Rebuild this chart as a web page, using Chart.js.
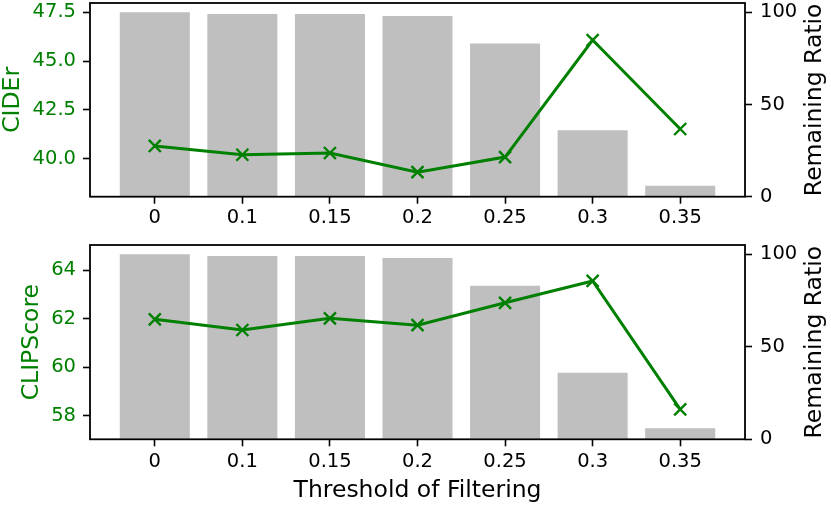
<!DOCTYPE html>
<html>
<head>
<meta charset="utf-8">
<script src="https://cdn.jsdelivr.net/npm/chart.js@4/dist/chart.umd.min.js"></script>
<style>
  html, body { margin: 0; padding: 0; background: #fff; }
  #wrap { position: relative; width: 831px; height: 506px; }
  canvas { position: absolute; left: 0; }
</style>
</head>
<body>
<div id="wrap">
  <canvas id="c1" width="831" height="240" style="top:0;width:831px;height:240px"></canvas>
  <canvas id="c2" width="831" height="266" style="top:240px;width:831px;height:266px"></canvas>
</div>
<script>
const categories = ['0', '0.1', '0.15', '0.2', '0.25', '0.3', '0.35'];
const remainingRatio = [100, 99, 99, 98, 83, 36, 6];
const ciderValues = [40.65, 40.2, 40.29, 39.31, 40.08, 46.08, 41.52];
const clipValues = [61.97, 61.53, 62.01, 61.73, 62.65, 63.55, 58.26];
const ciderTicks = [40, 42.5, 45, 47.5];
const clipTicks = [58, 60, 62, 64];
const ratioTicks = [0, 50, 100];

const GREEN = '#008000';
const FONT = 'DejaVu Sans';

function pts(arr) { return arr.map((v, i) => ({ x: i, y: v })); }

function boxAndTitles(leftTitle, rightTitle, leftX, bottomTitle) {
  return {
    id: 'boxTitles',
    afterDraw(chart) {
      const ctx = chart.ctx, a = chart.chartArea;
      ctx.save();
      ctx.strokeStyle = '#000';
      ctx.lineWidth = 1.8;
      ctx.strokeRect(a.left, a.top, a.right - a.left, a.bottom - a.top);
      const cy = (a.top + a.bottom) / 2;
      ctx.font = '23.5px "' + FONT + '"';
      ctx.textAlign = 'center';
      ctx.textBaseline = 'middle';
      ctx.fillStyle = GREEN;
      ctx.translate(leftX, cy);
      ctx.rotate(-Math.PI / 2);
      ctx.fillText(leftTitle, 0, 0);
      ctx.restore();
      ctx.save();
      ctx.font = '23.5px "' + FONT + '"';
      ctx.textAlign = 'center';
      ctx.textBaseline = 'middle';
      ctx.fillStyle = '#000';
      ctx.translate(815, cy);
      ctx.rotate(-Math.PI / 2);
      ctx.fillText(rightTitle, 0, 0);
      ctx.restore();
      if (bottomTitle) {
        ctx.save();
        ctx.font = '23.5px "' + FONT + '"';
        ctx.textAlign = 'center';
        ctx.textBaseline = 'alphabetic';
        ctx.fillStyle = '#000';
        ctx.fillText(bottomTitle, (a.left + a.right) / 2, 256.7);
        ctx.restore();
      }
    }
  };
}

function makeChart(id, lineVals, leftMin, leftMax, leftTicks, leftFmt, padTop, xHeight, xPad, leftTitle, leftX, bottomTitle) {
  const gridOpts = { drawOnChartArea: false, drawTicks: true, tickLength: 7, tickColor: '#000', tickWidth: 1.6, offset: false };
  return new Chart(document.getElementById(id), {
    type: 'bar',
    data: {
      datasets: [
        {
          type: 'line',
          data: pts(lineVals),
          yAxisID: 'y',
          xAxisID: 'x',
          borderColor: GREEN,
          backgroundColor: GREEN,
          borderWidth: 3,
          pointStyle: 'crossRot',
          pointRadius: 8.5,
          pointBorderWidth: 2.4,
          pointBorderColor: GREEN,
          tension: 0,
          order: 0
        },
        {
          type: 'bar',
          data: pts(remainingRatio),
          yAxisID: 'y1',
          xAxisID: 'x',
          backgroundColor: '#bfbfbf',
          borderWidth: 0,
          barPercentage: 0.8,
          categoryPercentage: 1.0,
          order: 1
        }
      ]
    },
    options: {
      responsive: false,
      animation: false,
      devicePixelRatio: 1,
      layout: { autoPadding: false, padding: { top: padTop, left: 0, right: 0, bottom: 0 } },
      plugins: { legend: { display: false }, tooltip: { enabled: false } },
      scales: {
        x: {
          type: 'linear',
          position: 'bottom',
          offset: false,
          min: -0.74,
          max: 6.74,
          afterBuildTicks: s => { s.ticks = categories.map((c, i) => ({ value: i })); },
          afterFit: s => { s.height = xHeight; s.paddingLeft = 0; s.paddingRight = 0; },
          ticks: {
            callback: v => categories[v],
            color: '#000',
            font: { family: FONT, size: 19.5 },
            padding: xPad,
            maxRotation: 0,
            autoSkip: false
          },
          grid: gridOpts,
          border: { display: false }
        },
        y: {
          type: 'linear',
          position: 'left',
          min: leftMin,
          max: leftMax,
          afterBuildTicks: s => { s.ticks = leftTicks.map(v => ({ value: v })); },
          afterFit: s => { s.width = 90; s.paddingTop = 0; s.paddingBottom = 0; },
          ticks: {
            callback: leftFmt,
            color: GREEN,
            font: { family: FONT, size: 19.5 },
            padding: 7
          },
          grid: gridOpts,
          border: { display: false }
        },
        y1: {
          type: 'linear',
          position: 'right',
          min: 0,
          max: 105,
          afterBuildTicks: s => { s.ticks = ratioTicks.map(v => ({ value: v })); },
          afterFit: s => { s.width = 86; s.paddingTop = 0; s.paddingBottom = 0; },
          ticks: {
            color: '#000',
            font: { family: FONT, size: 19.5 },
            padding: 8
          },
          grid: gridOpts,
          border: { display: false }
        }
      }
    },
    plugins: [boxAndTitles(leftTitle, 'Remaining Ratio', leftX, bottomTitle)]
  });
}

makeChart('c1', ciderValues, 38.05, 47.98, ciderTicks, v => Number(v).toFixed(1), 3, 43.3, 3, 'CIDEr', 13, null);
makeChart('c2', clipValues, 57.03, 65.03, clipTicks, v => String(v), 5, 66.7, 4, 'CLIPScore', 32, 'Threshold of Filtering');
</script>
</body>
</html>
